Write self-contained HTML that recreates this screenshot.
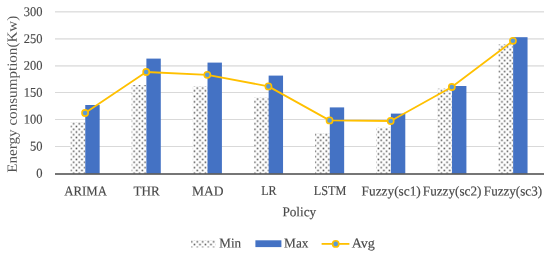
<!DOCTYPE html><html><head><meta charset="utf-8"><style>html,body{margin:0;padding:0;background:#fff}svg{display:block}</style></head><body><svg width="550" height="256" viewBox="0 0 550 256">
<defs>
<pattern id="dots" width="5.49" height="5.49" patternUnits="userSpaceOnUse" patternTransform="translate(1.03,1.67)">
<rect width="5.6" height="5.6" fill="#fff"/>
<rect x="0.55" y="0.55" width="1.55" height="1.6" fill="#585858"/>
<rect x="3.295" y="3.295" width="1.55" height="1.6" fill="#585858"/>
</pattern>
</defs>
<rect width="550" height="256" fill="#fff"/>
<rect x="55.0" y="11.10" width="489.0" height="1.4" fill="#dedede"/>
<rect x="55.0" y="38.15" width="489.0" height="1.5" fill="#dfdfdf"/>
<rect x="55.0" y="65.15" width="489.0" height="1.5" fill="#dfdfdf"/>
<rect x="55.0" y="92.00" width="489.0" height="1.0" fill="#d9d9d9"/>
<rect x="55.0" y="119.00" width="489.0" height="1.0" fill="#d9d9d9"/>
<rect x="55.0" y="146.00" width="489.0" height="1.0" fill="#d9d9d9"/>
<rect x="70.56" y="122.00" width="14.70" height="51.60" fill="url(#dots)"/>
<rect x="85.26" y="105.00" width="14.40" height="68.60" fill="#4472c4"/>
<rect x="131.69" y="85.00" width="14.70" height="88.60" fill="url(#dots)"/>
<rect x="146.39" y="58.60" width="14.40" height="115.00" fill="#4472c4"/>
<rect x="192.81" y="86.00" width="14.70" height="87.60" fill="url(#dots)"/>
<rect x="207.51" y="62.60" width="14.40" height="111.00" fill="#4472c4"/>
<rect x="253.94" y="97.40" width="14.70" height="76.20" fill="url(#dots)"/>
<rect x="268.64" y="75.60" width="14.40" height="98.00" fill="#4472c4"/>
<rect x="315.06" y="133.00" width="14.70" height="40.60" fill="url(#dots)"/>
<rect x="329.76" y="107.40" width="14.40" height="66.20" fill="#4472c4"/>
<rect x="376.19" y="127.60" width="14.70" height="46.00" fill="url(#dots)"/>
<rect x="390.89" y="113.60" width="14.40" height="60.00" fill="#4472c4"/>
<rect x="437.31" y="88.60" width="14.70" height="85.00" fill="url(#dots)"/>
<rect x="452.01" y="86.00" width="14.40" height="87.60" fill="#4472c4"/>
<rect x="498.44" y="44.40" width="14.70" height="129.20" fill="url(#dots)"/>
<rect x="513.14" y="37.20" width="14.40" height="136.40" fill="#4472c4"/>
<line x1="55.0" x2="544.0" y1="174.0" y2="174.0" stroke="#484848" stroke-width="1.7"/>
<polyline points="85.06,113.00 146.19,72.00 207.31,74.80 268.44,86.40 329.56,120.40 390.69,121.00 451.81,87.00 512.94,40.80" fill="none" stroke="#ffc000" stroke-width="1.8" stroke-linejoin="round"/>
<circle cx="85.06" cy="113.00" r="3.1" fill="#5b9bd5" stroke="#ffc000" stroke-width="1.6"/>
<circle cx="146.19" cy="72.00" r="3.1" fill="#5b9bd5" stroke="#ffc000" stroke-width="1.6"/>
<circle cx="207.31" cy="74.80" r="3.1" fill="#5b9bd5" stroke="#ffc000" stroke-width="1.6"/>
<circle cx="268.44" cy="86.40" r="3.1" fill="#5b9bd5" stroke="#ffc000" stroke-width="1.6"/>
<circle cx="329.56" cy="120.40" r="3.1" fill="#5b9bd5" stroke="#ffc000" stroke-width="1.6"/>
<circle cx="390.69" cy="121.00" r="3.1" fill="#5b9bd5" stroke="#ffc000" stroke-width="1.6"/>
<circle cx="451.81" cy="87.00" r="3.1" fill="#5b9bd5" stroke="#ffc000" stroke-width="1.6"/>
<circle cx="512.94" cy="40.80" r="3.1" fill="#5b9bd5" stroke="#ffc000" stroke-width="1.6"/>
<text transform="translate(42.50,16.00) rotate(0.03)" text-anchor="end" font-size="13.3" fill="#484848" stroke="#484848" stroke-width="0.15" font-family="'Liberation Serif', serif" textLength="18.7" lengthAdjust="spacingAndGlyphs">300</text>
<text transform="translate(42.50,42.90) rotate(0.03)" text-anchor="end" font-size="13.3" fill="#484848" stroke="#484848" stroke-width="0.15" font-family="'Liberation Serif', serif" textLength="18.7" lengthAdjust="spacingAndGlyphs">250</text>
<text transform="translate(42.50,69.80) rotate(0.03)" text-anchor="end" font-size="13.3" fill="#484848" stroke="#484848" stroke-width="0.15" font-family="'Liberation Serif', serif" textLength="18.7" lengthAdjust="spacingAndGlyphs">200</text>
<text transform="translate(42.50,96.70) rotate(0.03)" text-anchor="end" font-size="13.3" fill="#484848" stroke="#484848" stroke-width="0.15" font-family="'Liberation Serif', serif" textLength="18.7" lengthAdjust="spacingAndGlyphs">150</text>
<text transform="translate(42.50,123.60) rotate(0.03)" text-anchor="end" font-size="13.3" fill="#484848" stroke="#484848" stroke-width="0.15" font-family="'Liberation Serif', serif" textLength="18.7" lengthAdjust="spacingAndGlyphs">100</text>
<text transform="translate(42.50,150.50) rotate(0.03)" text-anchor="end" font-size="13.3" fill="#484848" stroke="#484848" stroke-width="0.15" font-family="'Liberation Serif', serif" textLength="12.5" lengthAdjust="spacingAndGlyphs">50</text>
<text transform="translate(42.50,177.40) rotate(0.03)" text-anchor="end" font-size="13.3" fill="#484848" stroke="#484848" stroke-width="0.15" font-family="'Liberation Serif', serif" textLength="6.3" lengthAdjust="spacingAndGlyphs">0</text>
<text transform="translate(85.56,195.40) rotate(0.03)" text-anchor="middle" font-size="13.5" fill="#484848" stroke="#484848" stroke-width="0.15" font-family="'Liberation Serif', serif" textLength="42.8" lengthAdjust="spacingAndGlyphs">ARIMA</text>
<text transform="translate(146.69,195.40) rotate(0.03)" text-anchor="middle" font-size="13.5" fill="#484848" stroke="#484848" stroke-width="0.15" font-family="'Liberation Serif', serif" textLength="26.2" lengthAdjust="spacingAndGlyphs">THR</text>
<text transform="translate(207.81,195.40) rotate(0.03)" text-anchor="middle" font-size="13.5" fill="#484848" stroke="#484848" stroke-width="0.15" font-family="'Liberation Serif', serif" textLength="31.6" lengthAdjust="spacingAndGlyphs">MAD</text>
<text transform="translate(268.94,195.40) rotate(0.03)" text-anchor="middle" font-size="13.5" fill="#484848" stroke="#484848" stroke-width="0.15" font-family="'Liberation Serif', serif" textLength="15.4" lengthAdjust="spacingAndGlyphs">LR</text>
<text transform="translate(330.06,195.40) rotate(0.03)" text-anchor="middle" font-size="13.5" fill="#484848" stroke="#484848" stroke-width="0.15" font-family="'Liberation Serif', serif" textLength="32.6" lengthAdjust="spacingAndGlyphs">LSTM</text>
<text transform="translate(391.19,195.40) rotate(0.03)" text-anchor="middle" font-size="13.5" fill="#484848" stroke="#484848" stroke-width="0.15" font-family="'Liberation Serif', serif" textLength="59.2" lengthAdjust="spacingAndGlyphs">Fuzzy(sc1)</text>
<text transform="translate(452.11,195.40) rotate(0.03)" text-anchor="middle" font-size="13.5" fill="#484848" stroke="#484848" stroke-width="0.15" font-family="'Liberation Serif', serif" textLength="58.6" lengthAdjust="spacingAndGlyphs">Fuzzy(sc2)</text>
<text transform="translate(512.94,195.40) rotate(0.03)" text-anchor="middle" font-size="13.5" fill="#484848" stroke="#484848" stroke-width="0.15" font-family="'Liberation Serif', serif" textLength="58.2" lengthAdjust="spacingAndGlyphs">Fuzzy(sc3)</text>
<text transform="translate(299.30,216.30) rotate(0.03)" text-anchor="middle" font-size="13.5" fill="#484848" stroke="#484848" stroke-width="0.15" font-family="'Liberation Serif', serif" textLength="33.8" lengthAdjust="spacingAndGlyphs">Policy</text>
<text transform="translate(16.7,94.2) rotate(-90.03)" text-anchor="middle" font-size="14.0" fill="#525252" font-family="'Liberation Serif', serif" textLength="157" lengthAdjust="spacingAndGlyphs">Energy consumption(Kw)</text>
<rect x="191" y="240" width="24.4" height="7.4" fill="url(#dots)"/>
<text transform="translate(219.30,247.40) rotate(0.03)" text-anchor="start" font-size="13.5" fill="#484848" stroke="#484848" stroke-width="0.15" font-family="'Liberation Serif', serif" textLength="21.8" lengthAdjust="spacingAndGlyphs">Min</text>
<rect x="255.4" y="240.3" width="26.0" height="6.8" fill="#4472c4"/>
<text transform="translate(284.10,247.40) rotate(0.03)" text-anchor="start" font-size="13.5" fill="#484848" stroke="#484848" stroke-width="0.15" font-family="'Liberation Serif', serif" textLength="24.4" lengthAdjust="spacingAndGlyphs">Max</text>
<line x1="321.6" x2="349.4" y1="243.9" y2="243.9" stroke="#ffc000" stroke-width="1.8"/>
<circle cx="335.7" cy="243.9" r="3.1" fill="#5b9bd5" stroke="#ffc000" stroke-width="1.6"/>
<text transform="translate(351.70,247.40) rotate(0.03)" text-anchor="start" font-size="13.5" fill="#484848" stroke="#484848" stroke-width="0.15" font-family="'Liberation Serif', serif" textLength="23.2" lengthAdjust="spacingAndGlyphs">Avg</text>
</svg></body></html>
